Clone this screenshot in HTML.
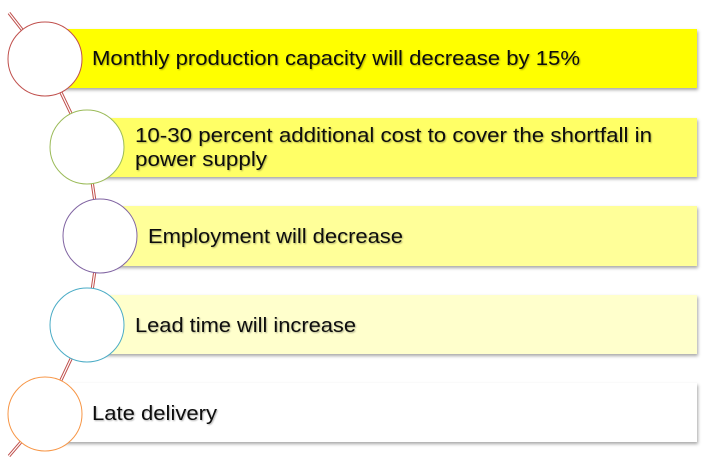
<!DOCTYPE html>
<html><head><meta charset="utf-8"><style>
html,body{margin:0;padding:0;background:#fff;width:704px;height:472px;overflow:hidden}
text{font-family:"Liberation Sans",sans-serif;font-size:20px;fill:#111}
</style></head><body>
<svg width="704" height="472" viewBox="0 0 704 472" xmlns="http://www.w3.org/2000/svg">
<defs>
<filter id="sh" x="-5%" y="-20%" width="110%" height="150%"><feDropShadow dx="1" dy="2" stdDeviation="1.5" flood-color="#000" flood-opacity="0.35"/></filter>
<filter id="ts"><feDropShadow dx="1" dy="1" stdDeviation="0.8" flood-color="#000" flood-opacity="0.3"/></filter>
</defs>
<g stroke="#c0504d" stroke-width="3.2" fill="none"><polyline points="9,13 45,59 87,147 100,236 87,325 45,414 9,456"/></g>
<g stroke="#fff" stroke-width="1.2" fill="none"><polyline points="9,13 45,59 87,147 100,236 87,325 45,414 9,456"/></g>
<rect x="45" y="29" width="652" height="59" fill="#ffff00" filter="url(#sh)"/>
<rect x="87" y="118" width="610" height="59" fill="#ffff66" filter="url(#sh)"/>
<rect x="100" y="206" width="597" height="60" fill="#ffff99" filter="url(#sh)"/>
<rect x="87" y="295" width="610" height="59" fill="#ffffcc" filter="url(#sh)"/>
<rect x="45" y="383" width="652" height="59" fill="#ffffff" filter="url(#sh)"/>
<circle cx="45" cy="59" r="37" fill="#fff" stroke="#c0504d" stroke-width="1"/>
<circle cx="87" cy="147" r="37" fill="#fff" stroke="#9bbb59" stroke-width="1"/>
<circle cx="100" cy="236" r="37" fill="#fff" stroke="#8064a2" stroke-width="1"/>
<circle cx="87" cy="325" r="37" fill="#fff" stroke="#4bacc6" stroke-width="1"/>
<circle cx="45" cy="414" r="37" fill="#fff" stroke="#f79646" stroke-width="1"/>
<g filter="url(#ts)">
<text x="92" y="65" textLength="488" lengthAdjust="spacingAndGlyphs">Monthly production capacity will decrease by 15%</text>
<text x="135" y="142" textLength="517" lengthAdjust="spacingAndGlyphs">10-30 percent additional cost to cover the shortfall in</text>
<text x="135" y="166" textLength="132" lengthAdjust="spacingAndGlyphs">power supply</text>
<text x="148" y="243" textLength="255" lengthAdjust="spacingAndGlyphs">Employment will decrease</text>
<text x="135" y="332" textLength="221" lengthAdjust="spacingAndGlyphs">Lead time will increase</text>
<text x="92" y="420" textLength="125" lengthAdjust="spacingAndGlyphs">Late delivery</text>
</g>
</svg>
</body></html>
